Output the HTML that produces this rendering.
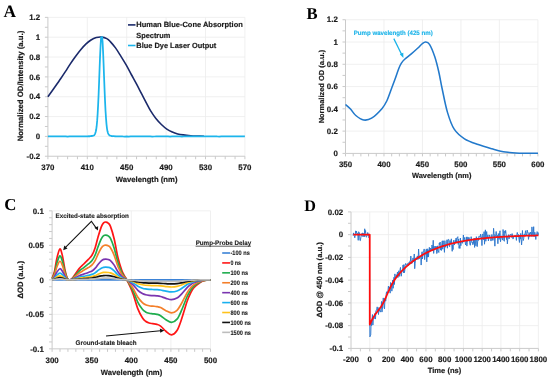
<!DOCTYPE html><html><head><meta charset="utf-8"><style>html,body{margin:0;padding:0;background:#fff;overflow:hidden}svg{display:block;text-rendering:geometricPrecision;filter:blur(0.3px)}</style></head><body>
<svg width="550" height="380" viewBox="0 0 550 380">
<rect width="550" height="380" fill="#fff"/>
<path d="M47.9,17.36 H244.9 M47.9,37.2 H244.9 M47.9,57.04 H244.9 M47.9,76.88 H244.9 M47.9,96.72 H244.9 M47.9,116.56 H244.9 M47.9,136.4 H244.9 M87.3,17.36 V156.24 M126.7,17.36 V156.24 M166.1,17.36 V156.24 M205.5,17.36 V156.24 M244.9,17.36 V156.24" stroke="#ececec" stroke-width="0.8" fill="none"/>
<path d="M47.9,17.36 V156.24 H244.9 M44.9,17.36 H47.9 M44.9,27.28 H47.9 M44.9,37.2 H47.9 M44.9,47.12 H47.9 M44.9,57.04 H47.9 M44.9,66.96 H47.9 M44.9,76.88 H47.9 M44.9,86.8 H47.9 M44.9,96.72 H47.9 M44.9,106.64 H47.9 M44.9,116.56 H47.9 M44.9,126.48 H47.9 M44.9,136.4 H47.9 M44.9,146.32 H47.9 M44.9,156.24 H47.9 M47.9,156.24 V159.24 M57.75,156.24 V159.24 M67.6,156.24 V159.24 M77.45,156.24 V159.24 M87.3,156.24 V159.24 M97.15,156.24 V159.24 M107,156.24 V159.24 M116.85,156.24 V159.24 M126.7,156.24 V159.24 M136.55,156.24 V159.24 M146.4,156.24 V159.24 M156.25,156.24 V159.24 M166.1,156.24 V159.24 M175.95,156.24 V159.24 M185.8,156.24 V159.24 M195.65,156.24 V159.24 M205.5,156.24 V159.24 M215.35,156.24 V159.24 M225.2,156.24 V159.24 M235.05,156.24 V159.24 M244.9,156.24 V159.24" stroke="#cacaca" stroke-width="1" fill="none"/>
<text x="40.2" y="20.11" font-family='"Liberation Sans", sans-serif' font-size="7.9" font-weight="bold" fill="#1a1a1a" text-anchor="end" stroke="#1a1a1a" stroke-width="0.18" >1.2</text>
<text x="40.2" y="39.95" font-family='"Liberation Sans", sans-serif' font-size="7.9" font-weight="bold" fill="#1a1a1a" text-anchor="end" stroke="#1a1a1a" stroke-width="0.18" >1</text>
<text x="40.2" y="59.79" font-family='"Liberation Sans", sans-serif' font-size="7.9" font-weight="bold" fill="#1a1a1a" text-anchor="end" stroke="#1a1a1a" stroke-width="0.18" >0.8</text>
<text x="40.2" y="79.63" font-family='"Liberation Sans", sans-serif' font-size="7.9" font-weight="bold" fill="#1a1a1a" text-anchor="end" stroke="#1a1a1a" stroke-width="0.18" >0.6</text>
<text x="40.2" y="99.47" font-family='"Liberation Sans", sans-serif' font-size="7.9" font-weight="bold" fill="#1a1a1a" text-anchor="end" stroke="#1a1a1a" stroke-width="0.18" >0.4</text>
<text x="40.2" y="119.31" font-family='"Liberation Sans", sans-serif' font-size="7.9" font-weight="bold" fill="#1a1a1a" text-anchor="end" stroke="#1a1a1a" stroke-width="0.18" >0.2</text>
<text x="40.2" y="139.15" font-family='"Liberation Sans", sans-serif' font-size="7.9" font-weight="bold" fill="#1a1a1a" text-anchor="end" stroke="#1a1a1a" stroke-width="0.18" >0</text>
<text x="40.2" y="158.99" font-family='"Liberation Sans", sans-serif' font-size="7.9" font-weight="bold" fill="#1a1a1a" text-anchor="end" stroke="#1a1a1a" stroke-width="0.18" >-0.2</text>
<text x="47.9" y="170.1" font-family='"Liberation Sans", sans-serif' font-size="7.9" font-weight="bold" fill="#1a1a1a" text-anchor="middle" stroke="#1a1a1a" stroke-width="0.18" >370</text>
<text x="87.3" y="170.1" font-family='"Liberation Sans", sans-serif' font-size="7.9" font-weight="bold" fill="#1a1a1a" text-anchor="middle" stroke="#1a1a1a" stroke-width="0.18" >410</text>
<text x="126.7" y="170.1" font-family='"Liberation Sans", sans-serif' font-size="7.9" font-weight="bold" fill="#1a1a1a" text-anchor="middle" stroke="#1a1a1a" stroke-width="0.18" >450</text>
<text x="166.1" y="170.1" font-family='"Liberation Sans", sans-serif' font-size="7.9" font-weight="bold" fill="#1a1a1a" text-anchor="middle" stroke="#1a1a1a" stroke-width="0.18" >490</text>
<text x="205.5" y="170.1" font-family='"Liberation Sans", sans-serif' font-size="7.9" font-weight="bold" fill="#1a1a1a" text-anchor="middle" stroke="#1a1a1a" stroke-width="0.18" >530</text>
<text x="244.9" y="170.1" font-family='"Liberation Sans", sans-serif' font-size="7.9" font-weight="bold" fill="#1a1a1a" text-anchor="middle" stroke="#1a1a1a" stroke-width="0.18" >570</text>
<text x="146.6" y="181.6" font-family='"Liberation Sans", sans-serif' font-size="7.7" font-weight="bold" fill="#1a1a1a" text-anchor="middle" stroke="#1a1a1a" stroke-width="0.18" textLength="61.8" lengthAdjust="spacingAndGlyphs" >Wavelength (nm)</text>
<text transform="translate(22.9,86) rotate(-90)" font-family='"Liberation Sans", sans-serif' font-size="7.75" font-weight="bold" fill="#1a1a1a" text-anchor="middle" stroke="#1a1a1a" stroke-width="0.18" textLength="110.5" lengthAdjust="spacingAndGlyphs" >Normalized OD/Intensity (a.u.)</text>
<text x="3.6" y="16.7" font-family='"Liberation Serif", serif' font-size="17.4" font-weight="bold" fill="#000" text-anchor="start" >A</text>
<path d="M47.9,96.8 C48.92,95.37 51.85,91.25 54,88.2 C56.15,85.15 58.88,81.3 60.8,78.5 C62.72,75.7 63.97,73.75 65.5,71.4 C67.03,69.05 68.37,66.83 70,64.4 C71.63,61.97 73.55,59.2 75.3,56.8 C77.05,54.4 78.75,52.1 80.5,50 C82.25,47.9 84.05,45.87 85.8,44.2 C87.55,42.53 89.25,41.1 91,40 C92.75,38.9 94.53,38.08 96.3,37.6 C98.07,37.12 99.85,36.93 101.6,37.1 C103.35,37.27 105.35,37.85 106.8,38.6 C108.25,39.35 108.85,40.05 110.3,41.6 C111.75,43.15 113.75,45.48 115.5,47.9 C117.25,50.32 119,53.22 120.8,56.1 C122.6,58.98 124.55,62.13 126.3,65.2 C128.05,68.27 129.58,71.33 131.3,74.5 C133.02,77.67 134.85,80.92 136.6,84.2 C138.35,87.48 140.05,90.85 141.8,94.2 C143.55,97.55 145.65,101.57 147.1,104.3 C148.55,107.03 149.03,108.23 150.5,110.6 C151.97,112.97 154.08,116.18 155.9,118.5 C157.72,120.82 159.58,122.73 161.4,124.5 C163.22,126.27 164.98,127.83 166.8,129.1 C168.62,130.37 170.48,131.3 172.3,132.1 C174.12,132.9 175.88,133.43 177.7,133.9 C179.52,134.37 181.02,134.6 183.2,134.9 C185.38,135.2 188.43,135.51 190.8,135.7 C193.17,135.89 195.2,135.95 197.4,136.05 C199.6,136.15 202.9,136.26 204,136.3" stroke="#1b2a6b" stroke-width="1.6" fill="none" stroke-linejoin="round"/>
<path d="M47.9,136.34 L49.87,136.41 L51.84,136.37 L53.81,136.42 L55.78,136.43 L57.75,136.3 L59.72,136.28 L61.69,136.48 L63.66,136.34 L65.63,136.34 L67.6,136.52 L69.57,136.39 L71.54,136.48 L73.51,136.39 L75.48,136.43 L77.45,136.32 L79.42,136.43 L81.39,136.49 L83.36,136.4 L85.33,136.45 L87.3,136.4 L89.27,136.17 L89.76,136.3 L90.25,136.22 L90.75,136.1 L91.24,135.97 L91.73,136.09 L92.22,135.91 L92.72,135.84 L93.21,135.72 L93.7,135.45 L94.19,135.14 L94.69,134.44 L95.18,133.61 L95.67,132.03 L96.16,129.8 L96.66,126.23 L97.15,120.93 L97.64,113.93 L98.13,104.89 L98.63,94.06 L99.12,81.42 L99.61,68.32 L100.1,55.64 L100.6,45.02 L101.09,37.54 L101.58,37.16 L102.07,37.22 L102.57,41.6 L103.06,51.21 L103.55,63.15 L104.04,76.3 L104.54,89.17 L105.03,100.89 L105.52,110.69 L106.02,118.38 L106.51,124.39 L107,128.55 L107.49,131.32 L107.98,133.04 L108.48,134.2 L108.97,134.77 L109.46,135.35 L109.95,135.57 L110.45,135.68 L110.94,135.76 L111.43,136.06 L111.93,136.17 L112.42,136.02 L112.91,136.25 L113.4,136.2 L113.9,136.18 L114.39,136.24 L114.88,136.38 L115.37,136.43 L115.87,136.24 L116.36,136.39 L116.85,136.26 L118.82,136.45 L120.79,136.36 L122.76,136.49 L124.73,136.52 L126.7,136.4 L128.67,136.52 L130.64,136.35 L132.61,136.3 L134.58,136.42 L136.55,136.29 L138.52,136.33 L140.49,136.38 L142.46,136.43 L144.43,136.32 L146.4,136.29 L148.37,136.49 L150.34,136.36 L152.31,136.51 L154.28,136.5 L156.25,136.37 L158.22,136.39 L160.19,136.4 L162.16,136.43 L164.13,136.42 L166.1,136.41 L168.07,136.43 L170.04,136.51 L172.01,136.4 L173.98,136.38 L175.95,136.45 L177.92,136.34 L179.89,136.35 L181.86,136.51 L183.83,136.41 L185.8,136.41 L187.77,136.28 L189.74,136.38 L191.71,136.42 L193.68,136.28 L195.65,136.43 L197.62,136.43 L199.59,136.29 L201.56,136.43 L203.53,136.39 L205.5,136.44 L207.47,136.36 L209.44,136.45 L211.41,136.46 L213.38,136.29 L215.35,136.29 L217.32,136.44 L219.29,136.51 L221.26,136.34 L223.23,136.39 L225.2,136.42 L227.17,136.36 L229.14,136.37 L231.11,136.36 L233.08,136.37 L235.05,136.42 L237.02,136.35 L238.99,136.37 L240.96,136.47 L242.93,136.29 L244.9,136.42" stroke="#1cb5ec" stroke-width="1.75" fill="none" stroke-linejoin="round"/>
<path d="M128,24.9 H135.5" stroke="#1b2a6b" stroke-width="1.6"/>
<path d="M128,45.5 H135.5" stroke="#1cb5ec" stroke-width="1.6"/>
<text x="136.3" y="27.4" font-family='"Liberation Sans", sans-serif' font-size="7.5" font-weight="bold" fill="#1a1a1a" text-anchor="start" stroke="#1a1a1a" stroke-width="0.18" textLength="106.5" lengthAdjust="spacingAndGlyphs" >Human Blue-Cone Absorption</text>
<text x="136.3" y="37.8" font-family='"Liberation Sans", sans-serif' font-size="7.5" font-weight="bold" fill="#1a1a1a" text-anchor="start" stroke="#1a1a1a" stroke-width="0.18" textLength="34" lengthAdjust="spacingAndGlyphs" >Spectrum</text>
<text x="136.3" y="48.2" font-family='"Liberation Sans", sans-serif' font-size="7.5" font-weight="bold" fill="#1a1a1a" text-anchor="start" stroke="#1a1a1a" stroke-width="0.18" textLength="80" lengthAdjust="spacingAndGlyphs" >Blue Dye Laser Output</text>
<path d="M345.5,19.72 H537.9 M345.5,42 H537.9 M345.5,64.28 H537.9 M345.5,86.56 H537.9 M345.5,108.84 H537.9 M345.5,131.12 H537.9 M383.98,19.72 V153.4 M422.46,19.72 V153.4 M460.94,19.72 V153.4 M499.42,19.72 V153.4 M537.9,19.72 V153.4" stroke="#ececec" stroke-width="0.8" fill="none"/>
<path d="M345.5,19.72 V153.4 H537.9 M342.5,19.72 H345.5 M342.5,30.86 H345.5 M342.5,42 H345.5 M342.5,53.14 H345.5 M342.5,64.28 H345.5 M342.5,75.42 H345.5 M342.5,86.56 H345.5 M342.5,97.7 H345.5 M342.5,108.84 H345.5 M342.5,119.98 H345.5 M342.5,131.12 H345.5 M342.5,142.26 H345.5 M342.5,153.4 H345.5 M345.5,153.4 V156.4 M353.2,153.4 V156.4 M360.89,153.4 V156.4 M368.59,153.4 V156.4 M376.28,153.4 V156.4 M383.98,153.4 V156.4 M391.68,153.4 V156.4 M399.37,153.4 V156.4 M407.07,153.4 V156.4 M414.76,153.4 V156.4 M422.46,153.4 V156.4 M430.16,153.4 V156.4 M437.85,153.4 V156.4 M445.55,153.4 V156.4 M453.24,153.4 V156.4 M460.94,153.4 V156.4 M468.64,153.4 V156.4 M476.33,153.4 V156.4 M484.03,153.4 V156.4 M491.72,153.4 V156.4 M499.42,153.4 V156.4 M507.12,153.4 V156.4 M514.81,153.4 V156.4 M522.51,153.4 V156.4 M530.2,153.4 V156.4 M537.9,153.4 V156.4" stroke="#cacaca" stroke-width="1" fill="none"/>
<text x="337.8" y="22.47" font-family='"Liberation Sans", sans-serif' font-size="7.9" font-weight="bold" fill="#1a1a1a" text-anchor="end" stroke="#1a1a1a" stroke-width="0.18" >1.2</text>
<text x="337.8" y="44.75" font-family='"Liberation Sans", sans-serif' font-size="7.9" font-weight="bold" fill="#1a1a1a" text-anchor="end" stroke="#1a1a1a" stroke-width="0.18" >1</text>
<text x="337.8" y="67.03" font-family='"Liberation Sans", sans-serif' font-size="7.9" font-weight="bold" fill="#1a1a1a" text-anchor="end" stroke="#1a1a1a" stroke-width="0.18" >0.8</text>
<text x="337.8" y="89.31" font-family='"Liberation Sans", sans-serif' font-size="7.9" font-weight="bold" fill="#1a1a1a" text-anchor="end" stroke="#1a1a1a" stroke-width="0.18" >0.6</text>
<text x="337.8" y="111.59" font-family='"Liberation Sans", sans-serif' font-size="7.9" font-weight="bold" fill="#1a1a1a" text-anchor="end" stroke="#1a1a1a" stroke-width="0.18" >0.4</text>
<text x="337.8" y="133.87" font-family='"Liberation Sans", sans-serif' font-size="7.9" font-weight="bold" fill="#1a1a1a" text-anchor="end" stroke="#1a1a1a" stroke-width="0.18" >0.2</text>
<text x="337.8" y="156.15" font-family='"Liberation Sans", sans-serif' font-size="7.9" font-weight="bold" fill="#1a1a1a" text-anchor="end" stroke="#1a1a1a" stroke-width="0.18" >0</text>
<text x="345.5" y="167.1" font-family='"Liberation Sans", sans-serif' font-size="7.9" font-weight="bold" fill="#1a1a1a" text-anchor="middle" stroke="#1a1a1a" stroke-width="0.18" >350</text>
<text x="383.98" y="167.1" font-family='"Liberation Sans", sans-serif' font-size="7.9" font-weight="bold" fill="#1a1a1a" text-anchor="middle" stroke="#1a1a1a" stroke-width="0.18" >400</text>
<text x="422.46" y="167.1" font-family='"Liberation Sans", sans-serif' font-size="7.9" font-weight="bold" fill="#1a1a1a" text-anchor="middle" stroke="#1a1a1a" stroke-width="0.18" >450</text>
<text x="460.94" y="167.1" font-family='"Liberation Sans", sans-serif' font-size="7.9" font-weight="bold" fill="#1a1a1a" text-anchor="middle" stroke="#1a1a1a" stroke-width="0.18" >500</text>
<text x="499.42" y="167.1" font-family='"Liberation Sans", sans-serif' font-size="7.9" font-weight="bold" fill="#1a1a1a" text-anchor="middle" stroke="#1a1a1a" stroke-width="0.18" >550</text>
<text x="537.9" y="167.1" font-family='"Liberation Sans", sans-serif' font-size="7.9" font-weight="bold" fill="#1a1a1a" text-anchor="middle" stroke="#1a1a1a" stroke-width="0.18" >600</text>
<text x="441.7" y="178.4" font-family='"Liberation Sans", sans-serif' font-size="7.45" font-weight="bold" fill="#1a1a1a" text-anchor="middle" stroke="#1a1a1a" stroke-width="0.18" textLength="59.5" lengthAdjust="spacingAndGlyphs" >Wavelength (nm)</text>
<text transform="translate(323.9,86.6) rotate(-90)" font-family='"Liberation Sans", sans-serif' font-size="7.3" font-weight="bold" fill="#1a1a1a" text-anchor="middle" stroke="#1a1a1a" stroke-width="0.18" textLength="73.5" lengthAdjust="spacingAndGlyphs" >Normalized OD (a.u.)</text>
<text x="306.6" y="18.9" font-family='"Liberation Serif", serif' font-size="16.6" font-weight="bold" fill="#000" text-anchor="start" >B</text>
<path d="M345.5,104.5 C346.33,105.25 348.78,107.17 350.5,109 C352.22,110.83 353.6,113.67 355.8,115.5 C358,117.33 361.07,119.55 363.7,120 C366.33,120.45 368.53,120.13 371.6,118.2 C374.67,116.27 379.53,111.35 382.1,108.4 C384.67,105.45 385.53,103.53 387,100.5 C388.47,97.47 389.58,93.68 390.9,90.2 C392.22,86.72 393.58,83.22 394.9,79.6 C396.22,75.98 397.72,71.23 398.8,68.5 C399.88,65.77 400.42,64.73 401.4,63.2 C402.38,61.67 403.05,60.85 404.7,59.3 C406.35,57.75 409.1,55.78 411.3,53.9 C413.5,52.02 416.12,49.65 417.9,48 C419.68,46.35 420.73,45 422,44 C423.27,43 424.25,41.95 425.5,42 C426.75,42.05 427.97,41.88 429.5,44.3 C431.03,46.72 433.17,51.97 434.7,56.5 C436.23,61.03 437.45,66.08 438.7,71.5 C439.95,76.92 440.75,82.23 442.2,89 C443.65,95.77 445.4,105.4 447.4,112.1 C449.4,118.8 451.35,124.75 454.2,129.2 C457.05,133.65 460.5,136.23 464.5,138.8 C468.5,141.37 473.65,142.95 478.2,144.6 C482.75,146.25 487.25,147.45 491.8,148.7 C496.35,149.95 500.93,151.35 505.5,152.1 C510.07,152.85 513.78,153 519.2,153.2 C524.62,153.4 534.87,153.28 538,153.3" stroke="#2279cb" stroke-width="1.55" fill="none" stroke-linejoin="round"/>
<text x="393.2" y="35.3" font-family='"Liberation Sans", sans-serif' font-size="6.35" font-weight="bold" fill="#17b2e8" text-anchor="middle" stroke="#17b2e8" stroke-width="0.1" textLength="79" lengthAdjust="spacingAndGlyphs" >Pump wavelength (425 nm)</text>
<path d="M393.8,38.6 L401.9,55" stroke="#17b2e8" stroke-width="1.25"/>
<path d="M403.4,58 L399.8,54.2 L403.3,52.8 Z" fill="#17b2e8"/>
<path d="M52.1,210.85 H210.5 M52.1,245.35 H210.5 M52.1,279.85 H210.5 M52.1,314.35 H210.5 M91.7,210.85 V348.85 M131.3,210.85 V348.85 M170.9,210.85 V348.85 M210.5,210.85 V348.85" stroke="#ececec" stroke-width="0.8" fill="none"/>
<path d="M52.1,210.85 V348.85 H210.5 M49.1,210.85 H52.1 M49.1,217.75 H52.1 M49.1,224.65 H52.1 M49.1,231.55 H52.1 M49.1,238.45 H52.1 M49.1,245.35 H52.1 M49.1,252.25 H52.1 M49.1,259.15 H52.1 M49.1,266.05 H52.1 M49.1,272.95 H52.1 M49.1,279.85 H52.1 M49.1,286.75 H52.1 M49.1,293.65 H52.1 M49.1,300.55 H52.1 M49.1,307.45 H52.1 M49.1,314.35 H52.1 M49.1,321.25 H52.1 M49.1,328.15 H52.1 M49.1,335.05 H52.1 M49.1,341.95 H52.1 M49.1,348.85 H52.1 M52.1,348.85 V351.85 M60.02,348.85 V351.85 M67.94,348.85 V351.85 M75.86,348.85 V351.85 M83.78,348.85 V351.85 M91.7,348.85 V351.85 M99.62,348.85 V351.85 M107.54,348.85 V351.85 M115.46,348.85 V351.85 M123.38,348.85 V351.85 M131.3,348.85 V351.85 M139.22,348.85 V351.85 M147.14,348.85 V351.85 M155.06,348.85 V351.85 M162.98,348.85 V351.85 M170.9,348.85 V351.85 M178.82,348.85 V351.85 M186.74,348.85 V351.85 M194.66,348.85 V351.85 M202.58,348.85 V351.85 M210.5,348.85 V351.85" stroke="#cacaca" stroke-width="1" fill="none"/>
<text x="43.8" y="213.6" font-family='"Liberation Sans", sans-serif' font-size="7.9" font-weight="bold" fill="#1a1a1a" text-anchor="end" stroke="#1a1a1a" stroke-width="0.18" >0.1</text>
<text x="43.8" y="248.1" font-family='"Liberation Sans", sans-serif' font-size="7.9" font-weight="bold" fill="#1a1a1a" text-anchor="end" stroke="#1a1a1a" stroke-width="0.18" >0.05</text>
<text x="43.8" y="282.6" font-family='"Liberation Sans", sans-serif' font-size="7.9" font-weight="bold" fill="#1a1a1a" text-anchor="end" stroke="#1a1a1a" stroke-width="0.18" >0</text>
<text x="43.8" y="317.1" font-family='"Liberation Sans", sans-serif' font-size="7.9" font-weight="bold" fill="#1a1a1a" text-anchor="end" stroke="#1a1a1a" stroke-width="0.18" >-0.05</text>
<text x="43.8" y="351.6" font-family='"Liberation Sans", sans-serif' font-size="7.9" font-weight="bold" fill="#1a1a1a" text-anchor="end" stroke="#1a1a1a" stroke-width="0.18" >-0.1</text>
<text x="52.1" y="362.8" font-family='"Liberation Sans", sans-serif' font-size="7.9" font-weight="bold" fill="#1a1a1a" text-anchor="middle" stroke="#1a1a1a" stroke-width="0.18" >300</text>
<text x="91.7" y="362.8" font-family='"Liberation Sans", sans-serif' font-size="7.9" font-weight="bold" fill="#1a1a1a" text-anchor="middle" stroke="#1a1a1a" stroke-width="0.18" >350</text>
<text x="131.3" y="362.8" font-family='"Liberation Sans", sans-serif' font-size="7.9" font-weight="bold" fill="#1a1a1a" text-anchor="middle" stroke="#1a1a1a" stroke-width="0.18" >400</text>
<text x="170.9" y="362.8" font-family='"Liberation Sans", sans-serif' font-size="7.9" font-weight="bold" fill="#1a1a1a" text-anchor="middle" stroke="#1a1a1a" stroke-width="0.18" >450</text>
<text x="210.5" y="362.8" font-family='"Liberation Sans", sans-serif' font-size="7.9" font-weight="bold" fill="#1a1a1a" text-anchor="middle" stroke="#1a1a1a" stroke-width="0.18" >500</text>
<text x="131.5" y="374.6" font-family='"Liberation Sans", sans-serif' font-size="7.7" font-weight="bold" fill="#1a1a1a" text-anchor="middle" stroke="#1a1a1a" stroke-width="0.18" textLength="61.5" lengthAdjust="spacingAndGlyphs" >Wavelength (nm)</text>
<text transform="translate(23.4,279.8) rotate(-90)" font-family='"Liberation Sans", sans-serif' font-size="7.8" font-weight="bold" fill="#1a1a1a" text-anchor="middle" stroke="#1a1a1a" stroke-width="0.18" textLength="37.5" lengthAdjust="spacingAndGlyphs" >&#916;OD (a.u.)</text>
<text x="4.3" y="210.2" font-family='"Liberation Serif", serif' font-size="16.8" font-weight="bold" fill="#000" text-anchor="start" >C</text>
<path d="M52.1,279.85 C52.5,279.85 53.68,279.85 54.48,279.85 C55.27,279.85 55.95,279.85 56.85,279.85 C57.75,279.85 58.94,279.85 59.86,279.85 C60.79,279.85 61.58,279.85 62.4,279.85 C63.21,279.85 63.98,279.85 64.77,279.85 C65.56,279.85 66.36,279.85 67.15,279.85 C67.94,279.85 68.6,279.85 69.52,279.85 C70.45,279.85 71.08,279.85 72.69,279.85 C74.3,279.85 77.34,279.85 79.19,279.85 C81.03,279.85 82.25,279.85 83.78,279.85 C85.31,279.85 86.99,279.85 88.37,279.85 C89.76,279.85 90.95,279.85 92.1,279.85 C93.24,279.85 94.27,279.85 95.26,279.85 C96.25,279.85 97.03,279.85 98.04,279.85 C99.04,279.85 100.36,279.85 101.28,279.85 C102.21,279.85 102.81,279.85 103.58,279.85 C104.35,279.85 105.11,279.85 105.88,279.85 C106.64,279.85 107.41,279.85 108.17,279.85 C108.94,279.85 109.47,279.85 110.47,279.85 C111.47,279.85 112.95,279.85 114.19,279.85 C115.43,279.85 116.67,279.85 117.92,279.85 C119.16,279.85 120.59,279.85 121.64,279.85 C122.68,279.85 123.31,279.85 124.17,279.85 C125.03,279.85 125.84,279.85 126.79,279.85 C127.74,279.85 128.78,279.85 129.87,279.85 C130.97,279.85 132.03,279.85 133.36,279.85 C134.69,279.85 136.37,279.85 137.87,279.85 C139.38,279.85 141.11,279.85 142.39,279.85 C143.67,279.85 144.43,279.85 145.56,279.85 C146.68,279.85 147.93,279.85 149.12,279.85 C150.31,279.85 151.39,279.85 152.68,279.85 C153.98,279.85 155.56,279.85 156.88,279.85 C158.2,279.85 159.1,279.85 160.6,279.85 C162.11,279.85 164.09,279.85 165.91,279.85 C167.73,279.85 169.69,279.85 171.53,279.85 C173.38,279.85 175.34,279.85 177,279.85 C178.66,279.85 179.82,279.85 181.51,279.85 C183.2,279.85 185.6,279.85 187.14,279.85 C188.67,279.85 189.58,279.85 190.7,279.85 C191.82,279.85 192.23,279.85 193.87,279.85 C195.5,279.85 198.67,279.85 200.52,279.85 C202.37,279.85 203.29,279.85 204.96,279.85 C206.62,279.85 209.58,279.85 210.5,279.85" stroke="#3b82d6" stroke-width="1.7" fill="none" stroke-linejoin="round"/>
<path d="M52.1,278.12 C52.5,277.03 53.68,274.85 54.48,271.57 C55.27,268.29 55.95,262.23 56.85,258.46 C57.75,254.69 58.94,249.4 59.86,248.94 C60.79,248.48 61.58,252.39 62.4,255.7 C63.21,259.01 63.98,265.13 64.77,268.81 C65.56,272.49 66.36,275.88 67.15,277.78 C67.94,279.68 68.6,280.2 69.52,280.2 C70.45,280.2 71.08,279.71 72.69,277.78 C74.3,275.85 77.34,270.9 79.19,268.6 C81.03,266.3 82.25,265.52 83.78,263.98 C85.31,262.44 86.99,260.85 88.37,259.36 C89.76,257.86 90.95,257 92.1,255.01 C93.24,253.02 94.27,250.41 95.26,247.42 C96.25,244.43 97.03,240.5 98.04,237.07 C99.04,233.64 100.36,229.23 101.28,226.86 C102.21,224.49 102.81,223.66 103.58,222.86 C104.35,222.05 105.11,221.98 105.88,222.03 C106.64,222.07 107.41,222.41 108.17,223.13 C108.94,223.86 109.47,223.73 110.47,226.38 C111.47,229.02 112.95,233.8 114.19,239 C115.43,244.2 116.67,252.39 117.92,257.56 C119.16,262.74 120.59,267.09 121.64,270.05 C122.68,273.02 123.31,273.73 124.17,275.37 C125.03,277 125.84,278.07 126.79,279.85 C127.74,281.63 128.78,283.59 129.87,286.06 C130.97,288.53 132.03,290.89 133.36,294.69 C134.69,298.48 136.37,304.98 137.87,308.83 C139.38,312.68 141.11,315.73 142.39,317.8 C143.67,319.87 144.43,320.39 145.56,321.25 C146.68,322.11 147.93,322.57 149.12,322.98 C150.31,323.38 151.39,323.44 152.68,323.67 C153.98,323.9 155.56,323.95 156.88,324.36 C158.2,324.76 159.1,324.93 160.6,326.08 C162.11,327.23 164.09,329.79 165.91,331.25 C167.73,332.72 169.69,334.96 171.53,334.84 C173.38,334.73 175.34,333.15 177,330.56 C178.66,327.98 179.82,324.19 181.51,319.32 C183.2,314.44 185.6,305.7 187.14,301.31 C188.67,296.92 189.58,295.21 190.7,292.96 C191.82,290.71 192.23,289.57 193.87,287.79 C195.5,286 198.67,283.47 200.52,282.27 C202.37,281.06 203.29,280.94 204.96,280.54 C206.62,280.14 209.58,279.97 210.5,279.85" stroke="#ff1515" stroke-width="1.7" fill="none" stroke-linejoin="round"/>
<path d="M52.1,278.51 C52.5,277.67 53.68,275.97 54.48,273.43 C55.27,270.89 55.95,266.2 56.85,263.27 C57.75,260.35 58.94,256.25 59.86,255.89 C60.79,255.54 61.58,258.57 62.4,261.13 C63.21,263.7 63.98,268.44 64.77,271.29 C65.56,274.15 66.36,276.78 67.15,278.25 C67.94,279.72 68.6,280.12 69.52,280.12 C70.45,280.12 71.08,279.74 72.69,278.25 C74.3,276.75 77.34,272.92 79.19,271.13 C81.03,269.35 82.25,268.75 83.78,267.55 C85.31,266.36 86.99,265.13 88.37,263.97 C89.76,262.81 90.95,262.14 92.1,260.6 C93.24,259.06 94.27,257.03 95.26,254.72 C96.25,252.4 97.03,249.35 98.04,246.7 C99.04,244.04 100.36,240.62 101.28,238.78 C102.21,236.95 102.81,236.3 103.58,235.68 C104.35,235.06 105.11,235 105.88,235.04 C106.64,235.07 107.41,235.33 108.17,235.89 C108.94,236.46 109.47,236.36 110.47,238.41 C111.47,240.46 112.95,244.16 114.19,248.19 C115.43,252.22 116.67,258.57 117.92,262.58 C119.16,266.59 120.59,269.96 121.64,272.26 C122.68,274.56 123.31,275.11 124.17,276.37 C125.03,277.64 125.84,278.47 126.79,279.85 C127.74,281.23 128.78,282.75 129.87,284.66 C130.97,286.58 132.03,288.41 133.36,291.35 C134.69,294.29 136.37,299.32 137.87,302.31 C139.38,305.3 141.11,307.66 142.39,309.26 C143.67,310.87 144.43,311.27 145.56,311.94 C146.68,312.6 147.93,312.96 149.12,313.27 C150.31,313.58 151.39,313.63 152.68,313.81 C153.98,313.98 155.56,314.03 156.88,314.34 C158.2,314.65 159.1,314.79 160.6,315.68 C162.11,316.57 164.09,318.56 165.91,319.69 C167.73,320.82 169.69,322.56 171.53,322.47 C173.38,322.38 175.34,321.16 177,319.15 C178.66,317.15 179.82,314.22 181.51,310.44 C183.2,306.66 185.6,299.89 187.14,296.48 C188.67,293.08 189.58,291.76 190.7,290.01 C191.82,288.26 192.23,287.38 193.87,286 C195.5,284.62 198.67,282.66 200.52,281.72 C202.37,280.79 203.29,280.7 204.96,280.38 C206.62,280.07 209.58,279.94 210.5,279.85" stroke="#1fad4e" stroke-width="1.7" fill="none" stroke-linejoin="round"/>
<path d="M52.1,278.81 C52.5,278.16 53.68,276.85 54.48,274.88 C55.27,272.92 55.95,269.28 56.85,267.02 C57.75,264.75 58.94,261.58 59.86,261.3 C60.79,261.03 61.58,263.37 62.4,265.36 C63.21,267.35 63.98,271.02 64.77,273.23 C65.56,275.43 66.36,277.47 67.15,278.61 C67.94,279.75 68.6,280.06 69.52,280.06 C70.45,280.06 71.08,279.77 72.69,278.61 C74.3,277.45 77.34,274.48 79.19,273.1 C81.03,271.72 82.25,271.25 83.78,270.33 C85.31,269.4 86.99,268.45 88.37,267.55 C89.76,266.66 90.95,266.14 92.1,264.95 C93.24,263.75 94.27,262.19 95.26,260.39 C96.25,258.6 97.03,256.24 98.04,254.18 C99.04,252.13 100.36,249.48 101.28,248.05 C102.21,246.63 102.81,246.14 103.58,245.65 C104.35,245.17 105.11,245.13 105.88,245.16 C106.64,245.18 107.41,245.38 108.17,245.82 C108.94,246.25 109.47,246.18 110.47,247.77 C111.47,249.35 112.95,252.22 114.19,255.34 C115.43,258.46 116.67,263.37 117.92,266.48 C119.16,269.58 120.59,272.19 121.64,273.97 C122.68,275.75 123.31,276.18 124.17,277.16 C125.03,278.14 125.84,278.78 126.79,279.85 C127.74,280.92 128.78,282.09 129.87,283.58 C130.97,285.06 132.03,286.47 133.36,288.75 C134.69,291.03 136.37,294.93 137.87,297.24 C139.38,299.55 141.11,301.38 142.39,302.62 C143.67,303.86 144.43,304.17 145.56,304.69 C146.68,305.21 147.93,305.48 149.12,305.73 C150.31,305.97 151.39,306 152.68,306.14 C153.98,306.28 155.56,306.31 156.88,306.55 C158.2,306.79 159.1,306.9 160.6,307.59 C162.11,308.28 164.09,309.82 165.91,310.69 C167.73,311.57 169.69,312.91 171.53,312.85 C173.38,312.78 175.34,311.83 177,310.28 C178.66,308.73 179.82,306.46 181.51,303.53 C183.2,300.61 185.6,295.36 187.14,292.73 C188.67,290.09 189.58,289.07 190.7,287.72 C191.82,286.36 192.23,285.68 193.87,284.61 C195.5,283.54 198.67,282.02 200.52,281.3 C202.37,280.57 203.29,280.51 204.96,280.26 C206.62,280.02 209.58,279.92 210.5,279.85" stroke="#f47f2a" stroke-width="1.7" fill="none" stroke-linejoin="round"/>
<path d="M52.1,279.23 C52.5,278.84 53.68,278.05 54.48,276.87 C55.27,275.69 55.95,273.51 56.85,272.15 C57.75,270.79 58.94,268.89 59.86,268.72 C60.79,268.56 61.58,269.96 62.4,271.16 C63.21,272.35 63.98,274.55 64.77,275.88 C65.56,277.2 66.36,278.42 67.15,279.1 C67.94,279.79 68.6,279.97 69.52,279.97 C70.45,279.97 71.08,279.8 72.69,279.1 C74.3,278.41 77.34,276.63 79.19,275.8 C81.03,274.97 82.25,274.69 83.78,274.14 C85.31,273.58 86.99,273.01 88.37,272.47 C89.76,271.93 90.95,271.62 92.1,270.91 C93.24,270.19 94.27,269.25 95.26,268.18 C96.25,267.1 97.03,265.68 98.04,264.45 C99.04,263.22 100.36,261.63 101.28,260.77 C102.21,259.92 102.81,259.62 103.58,259.33 C104.35,259.04 105.11,259.02 105.88,259.03 C106.64,259.05 107.41,259.17 108.17,259.43 C108.94,259.69 109.47,259.65 110.47,260.6 C111.47,261.55 112.95,263.27 114.19,265.14 C115.43,267.02 116.67,269.96 117.92,271.83 C119.16,273.69 120.59,275.25 121.64,276.32 C122.68,277.39 123.31,277.65 124.17,278.24 C125.03,278.82 125.84,279.21 126.79,279.85 C127.74,280.49 128.78,281.2 129.87,282.09 C130.97,282.98 132.03,283.82 133.36,285.19 C134.69,286.56 136.37,288.9 137.87,290.28 C139.38,291.67 141.11,292.77 142.39,293.51 C143.67,294.26 144.43,294.44 145.56,294.75 C146.68,295.06 147.93,295.23 149.12,295.38 C150.31,295.52 151.39,295.54 152.68,295.62 C153.98,295.71 155.56,295.73 156.88,295.87 C158.2,296.02 159.1,296.08 160.6,296.49 C162.11,296.91 164.09,297.83 165.91,298.36 C167.73,298.88 169.69,299.69 171.53,299.65 C173.38,299.61 175.34,299.04 177,298.11 C178.66,297.18 179.82,295.81 181.51,294.06 C183.2,292.3 185.6,289.16 187.14,287.58 C188.67,285.99 189.58,285.38 190.7,284.57 C191.82,283.76 192.23,283.35 193.87,282.71 C195.5,282.06 198.67,281.15 200.52,280.72 C202.37,280.28 203.29,280.24 204.96,280.1 C206.62,279.95 209.58,279.89 210.5,279.85" stroke="#7a35b0" stroke-width="1.7" fill="none" stroke-linejoin="round"/>
<path d="M52.1,279.47 C52.5,279.23 53.68,278.75 54.48,278.03 C55.27,277.31 55.95,275.97 56.85,275.14 C57.75,274.31 58.94,273.15 59.86,273.05 C60.79,272.95 61.58,273.81 62.4,274.54 C63.21,275.27 63.98,276.61 64.77,277.42 C65.56,278.23 66.36,278.98 67.15,279.39 C67.94,279.81 68.6,279.93 69.52,279.93 C70.45,279.93 71.08,279.82 72.69,279.39 C74.3,278.97 77.34,277.88 79.19,277.38 C81.03,276.87 82.25,276.7 83.78,276.36 C85.31,276.02 86.99,275.67 88.37,275.34 C89.76,275.01 90.95,274.82 92.1,274.39 C93.24,273.95 94.27,273.37 95.26,272.72 C96.25,272.06 97.03,271.19 98.04,270.44 C99.04,269.68 100.36,268.71 101.28,268.19 C102.21,267.67 102.81,267.49 103.58,267.31 C104.35,267.13 105.11,267.12 105.88,267.13 C106.64,267.14 107.41,267.21 108.17,267.37 C108.94,267.53 109.47,267.5 110.47,268.09 C111.47,268.67 112.95,269.72 114.19,270.86 C115.43,272.01 116.67,273.81 117.92,274.95 C119.16,276.09 120.59,277.04 121.64,277.69 C122.68,278.35 123.31,278.5 124.17,278.86 C125.03,279.22 125.84,279.46 126.79,279.85 C127.74,280.24 128.78,280.67 129.87,281.22 C130.97,281.76 132.03,282.28 133.36,283.11 C134.69,283.95 136.37,285.38 137.87,286.23 C139.38,287.07 141.11,287.74 142.39,288.2 C143.67,288.65 144.43,288.77 145.56,288.96 C146.68,289.15 147.93,289.25 149.12,289.34 C150.31,289.43 151.39,289.44 152.68,289.49 C153.98,289.54 155.56,289.55 156.88,289.64 C158.2,289.73 159.1,289.77 160.6,290.02 C162.11,290.27 164.09,290.84 165.91,291.16 C167.73,291.48 169.69,291.97 171.53,291.95 C173.38,291.92 175.34,291.58 177,291.01 C178.66,290.44 179.82,289.61 181.51,288.53 C183.2,287.46 185.6,285.54 187.14,284.57 C188.67,283.6 189.58,283.23 190.7,282.73 C191.82,282.24 192.23,281.99 193.87,281.6 C195.5,281.2 198.67,280.65 200.52,280.38 C202.37,280.12 203.29,280.09 204.96,280 C206.62,279.91 209.58,279.88 210.5,279.85" stroke="#19b0ef" stroke-width="1.7" fill="none" stroke-linejoin="round"/>
<path d="M52.1,279.63 C52.5,279.48 53.68,279.2 54.48,278.77 C55.27,278.35 55.95,277.56 56.85,277.07 C57.75,276.58 58.94,275.89 59.86,275.83 C60.79,275.77 61.58,276.28 62.4,276.71 C63.21,277.14 63.98,277.94 64.77,278.41 C65.56,278.89 66.36,279.33 67.15,279.58 C67.94,279.83 68.6,279.89 69.52,279.89 C70.45,279.89 71.08,279.83 72.69,279.58 C74.3,279.33 77.34,278.69 79.19,278.39 C81.03,278.09 82.25,277.99 83.78,277.79 C85.31,277.59 86.99,277.38 88.37,277.19 C89.76,276.99 90.95,276.88 92.1,276.62 C93.24,276.36 94.27,276.02 95.26,275.63 C96.25,275.25 97.03,274.73 98.04,274.29 C99.04,273.84 100.36,273.27 101.28,272.96 C102.21,272.65 102.81,272.55 103.58,272.44 C104.35,272.34 105.11,272.33 105.88,272.33 C106.64,272.34 107.41,272.38 108.17,272.48 C108.94,272.57 109.47,272.55 110.47,272.9 C111.47,273.24 112.95,273.86 114.19,274.54 C115.43,275.22 116.67,276.28 117.92,276.95 C119.16,277.63 120.59,278.19 121.64,278.58 C122.68,278.96 123.31,279.05 124.17,279.27 C125.03,279.48 125.84,279.62 126.79,279.85 C127.74,280.08 128.78,280.34 129.87,280.66 C130.97,280.98 132.03,281.29 133.36,281.78 C134.69,282.27 136.37,283.12 137.87,283.62 C139.38,284.12 141.11,284.51 142.39,284.78 C143.67,285.05 144.43,285.12 145.56,285.23 C146.68,285.34 147.93,285.4 149.12,285.46 C150.31,285.51 151.39,285.52 152.68,285.55 C153.98,285.58 155.56,285.58 156.88,285.64 C158.2,285.69 159.1,285.71 160.6,285.86 C162.11,286.01 164.09,286.34 165.91,286.53 C167.73,286.72 169.69,287.01 171.53,287 C173.38,286.98 175.34,286.78 177,286.44 C178.66,286.11 179.82,285.61 181.51,284.98 C183.2,284.35 185.6,283.21 187.14,282.64 C188.67,282.07 189.58,281.85 190.7,281.55 C191.82,281.26 192.23,281.11 193.87,280.88 C195.5,280.65 198.67,280.32 200.52,280.16 C202.37,280.01 203.29,279.99 204.96,279.94 C206.62,279.89 209.58,279.86 210.5,279.85" stroke="#ffc21a" stroke-width="1.7" fill="none" stroke-linejoin="round"/>
<path d="M52.1,279.72 C52.5,279.64 53.68,279.47 54.48,279.23 C55.27,278.98 55.95,278.53 56.85,278.25 C57.75,277.96 58.94,277.57 59.86,277.53 C60.79,277.5 61.58,277.79 62.4,278.04 C63.21,278.29 63.98,278.75 64.77,279.02 C65.56,279.3 66.36,279.55 67.15,279.69 C67.94,279.84 68.6,279.88 69.52,279.88 C70.45,279.88 71.08,279.84 72.69,279.69 C74.3,279.55 77.34,279.18 79.19,279.01 C81.03,278.83 82.25,278.78 83.78,278.66 C85.31,278.54 86.99,278.43 88.37,278.31 C89.76,278.2 90.95,278.14 92.1,277.99 C93.24,277.84 94.27,277.64 95.26,277.42 C96.25,277.19 97.03,276.9 98.04,276.64 C99.04,276.38 100.36,276.05 101.28,275.88 C102.21,275.7 102.81,275.64 103.58,275.58 C104.35,275.52 105.11,275.51 105.88,275.51 C106.64,275.52 107.41,275.54 108.17,275.6 C108.94,275.65 109.47,275.64 110.47,275.84 C111.47,276.04 112.95,276.4 114.19,276.79 C115.43,277.18 116.67,277.79 117.92,278.18 C119.16,278.57 120.59,278.89 121.64,279.12 C122.68,279.34 123.31,279.39 124.17,279.51 C125.03,279.64 125.84,279.72 126.79,279.85 C127.74,279.98 128.78,280.13 129.87,280.32 C130.97,280.5 132.03,280.68 133.36,280.96 C134.69,281.25 136.37,281.73 137.87,282.02 C139.38,282.31 141.11,282.54 142.39,282.7 C143.67,282.85 144.43,282.89 145.56,282.96 C146.68,283.02 147.93,283.05 149.12,283.08 C150.31,283.11 151.39,283.12 152.68,283.14 C153.98,283.15 155.56,283.16 156.88,283.19 C158.2,283.22 159.1,283.23 160.6,283.32 C162.11,283.4 164.09,283.6 165.91,283.71 C167.73,283.81 169.69,283.98 171.53,283.97 C173.38,283.97 175.34,283.85 177,283.65 C178.66,283.46 179.82,283.18 181.51,282.81 C183.2,282.44 185.6,281.79 187.14,281.46 C188.67,281.13 189.58,281 190.7,280.83 C191.82,280.66 192.23,280.58 193.87,280.45 C195.5,280.31 198.67,280.12 200.52,280.03 C202.37,279.94 203.29,279.93 204.96,279.9 C206.62,279.87 209.58,279.86 210.5,279.85" stroke="#111111" stroke-width="1.7" fill="none" stroke-linejoin="round"/>
<path d="M52.1,279.8 C52.5,279.77 53.68,279.7 54.48,279.6 C55.27,279.5 55.95,279.32 56.85,279.21 C57.75,279.1 58.94,278.94 59.86,278.92 C60.79,278.91 61.58,279.03 62.4,279.13 C63.21,279.22 63.98,279.41 64.77,279.52 C65.56,279.63 66.36,279.73 67.15,279.79 C67.94,279.84 68.6,279.86 69.52,279.86 C70.45,279.86 71.08,279.85 72.69,279.79 C74.3,279.73 77.34,279.58 79.19,279.51 C81.03,279.44 82.25,279.42 83.78,279.37 C85.31,279.33 86.99,279.28 88.37,279.24 C89.76,279.19 90.95,279.16 92.1,279.1 C93.24,279.05 94.27,278.97 95.26,278.88 C96.25,278.79 97.03,278.67 98.04,278.57 C99.04,278.46 100.36,278.33 101.28,278.26 C102.21,278.19 102.81,278.16 103.58,278.14 C104.35,278.12 105.11,278.11 105.88,278.12 C106.64,278.12 107.41,278.13 108.17,278.15 C108.94,278.17 109.47,278.17 110.47,278.25 C111.47,278.33 112.95,278.47 114.19,278.62 C115.43,278.78 116.67,279.03 117.92,279.18 C119.16,279.34 120.59,279.47 121.64,279.56 C122.68,279.65 123.31,279.67 124.17,279.72 C125.03,279.76 125.84,279.8 126.79,279.85 C127.74,279.9 128.78,279.96 129.87,280.04 C130.97,280.11 132.03,280.18 133.36,280.3 C134.69,280.41 136.37,280.6 137.87,280.72 C139.38,280.83 141.11,280.93 142.39,280.99 C143.67,281.05 144.43,281.07 145.56,281.09 C146.68,281.12 147.93,281.13 149.12,281.14 C150.31,281.16 151.39,281.16 152.68,281.16 C153.98,281.17 155.56,281.17 156.88,281.19 C158.2,281.2 159.1,281.2 160.6,281.24 C162.11,281.27 164.09,281.35 165.91,281.39 C167.73,281.44 169.69,281.5 171.53,281.5 C173.38,281.5 175.34,281.45 177,281.37 C178.66,281.29 179.82,281.18 181.51,281.03 C183.2,280.89 185.6,280.63 187.14,280.49 C188.67,280.36 189.58,280.31 190.7,280.24 C191.82,280.18 192.23,280.14 193.87,280.09 C195.5,280.03 198.67,279.96 200.52,279.92 C202.37,279.89 203.29,279.88 204.96,279.87 C206.62,279.86 209.58,279.85 210.5,279.85" stroke="#bdbdbd" stroke-width="1.7" fill="none" stroke-linejoin="round"/>
<text x="223.4" y="244.9" font-family='"Liberation Sans", sans-serif' font-size="6.6" font-weight="bold" fill="#1a1a1a" text-anchor="middle" stroke="#1a1a1a" stroke-width="0.1" textLength="55.5" lengthAdjust="spacingAndGlyphs" >Pump-Probe Delay</text>
<path d="M195.6,246.2 H251" stroke="#1a1a1a" stroke-width="0.7"/>
<path d="M222.2,253 H230" stroke="#3b82d6" stroke-width="1.6"/>
<text x="230.4" y="255.35" font-family='"Liberation Sans", sans-serif' font-size="6.5" font-weight="bold" fill="#1a1a1a" text-anchor="start" stroke="#1a1a1a" stroke-width="0.1" textLength="19.4" lengthAdjust="spacingAndGlyphs" >-100 ns</text>
<path d="M222.2,262.92 H230" stroke="#ff1515" stroke-width="1.6"/>
<text x="230.4" y="265.27" font-family='"Liberation Sans", sans-serif' font-size="6.5" font-weight="bold" fill="#1a1a1a" text-anchor="start" stroke="#1a1a1a" stroke-width="0.1" textLength="10.7" lengthAdjust="spacingAndGlyphs" >0 ns</text>
<path d="M222.2,272.84 H230" stroke="#1fad4e" stroke-width="1.6"/>
<text x="230.4" y="275.19" font-family='"Liberation Sans", sans-serif' font-size="6.5" font-weight="bold" fill="#1a1a1a" text-anchor="start" stroke="#1a1a1a" stroke-width="0.1" textLength="17.7" lengthAdjust="spacingAndGlyphs" >100 ns</text>
<path d="M222.2,282.76 H230" stroke="#f47f2a" stroke-width="1.6"/>
<text x="230.4" y="285.11" font-family='"Liberation Sans", sans-serif' font-size="6.5" font-weight="bold" fill="#1a1a1a" text-anchor="start" stroke="#1a1a1a" stroke-width="0.1" textLength="17.7" lengthAdjust="spacingAndGlyphs" >200 ns</text>
<path d="M222.2,292.68 H230" stroke="#7a35b0" stroke-width="1.6"/>
<text x="230.4" y="295.03" font-family='"Liberation Sans", sans-serif' font-size="6.5" font-weight="bold" fill="#1a1a1a" text-anchor="start" stroke="#1a1a1a" stroke-width="0.1" textLength="17.6" lengthAdjust="spacingAndGlyphs" >400 ns</text>
<path d="M222.2,302.6 H230" stroke="#19b0ef" stroke-width="1.6"/>
<text x="230.4" y="304.95" font-family='"Liberation Sans", sans-serif' font-size="6.5" font-weight="bold" fill="#1a1a1a" text-anchor="start" stroke="#1a1a1a" stroke-width="0.1" textLength="17.6" lengthAdjust="spacingAndGlyphs" >600 ns</text>
<path d="M222.2,312.52 H230" stroke="#ffc21a" stroke-width="1.6"/>
<text x="230.4" y="314.87" font-family='"Liberation Sans", sans-serif' font-size="6.5" font-weight="bold" fill="#1a1a1a" text-anchor="start" stroke="#1a1a1a" stroke-width="0.1" textLength="17.6" lengthAdjust="spacingAndGlyphs" >800 ns</text>
<path d="M222.2,322.44 H230" stroke="#111111" stroke-width="1.6"/>
<text x="230.4" y="324.79" font-family='"Liberation Sans", sans-serif' font-size="6.5" font-weight="bold" fill="#1a1a1a" text-anchor="start" stroke="#1a1a1a" stroke-width="0.1" textLength="20.6" lengthAdjust="spacingAndGlyphs" >1000 ns</text>
<path d="M222.2,332.36 H230" stroke="#bdbdbd" stroke-width="1.6"/>
<text x="230.4" y="334.71" font-family='"Liberation Sans", sans-serif' font-size="6.5" font-weight="bold" fill="#1a1a1a" text-anchor="start" stroke="#1a1a1a" stroke-width="0.1" textLength="20.6" lengthAdjust="spacingAndGlyphs" >1500 ns</text>
<text x="55.6" y="217.8" font-family='"Liberation Sans", sans-serif' font-size="6.5" font-weight="bold" fill="#1a1a1a" text-anchor="start" stroke="#1a1a1a" stroke-width="0.1" textLength="73.3" lengthAdjust="spacingAndGlyphs" >Excited-state absorption</text>
<text x="75.6" y="344.8" font-family='"Liberation Sans", sans-serif' font-size="6.7" font-weight="bold" fill="#1a1a1a" text-anchor="start" stroke="#1a1a1a" stroke-width="0.1" textLength="61" lengthAdjust="spacingAndGlyphs" >Ground-state bleach</text>
<path d="M65,247.8 L91.4,221.3 L96.6,228.6" stroke="#111" stroke-width="1.1" fill="none"/>
<path d="M63.2,250.3 L64.3,245.5 L67.5,248.6 Z" fill="#111"/>
<path d="M97.9,230.6 L94.4,227.8 L98.2,226.2 Z" fill="#111"/>
<path d="M106,336 L160.5,330.8" stroke="#111" stroke-width="1.1" fill="none"/>
<path d="M164.3,330.4 L159.8,328.6 L160.3,332.8 Z" fill="#111"/>
<path d="M351,211.9 H538.4 M351,234.65 H538.4 M351,257.4 H538.4 M351,280.15 H538.4 M351,302.9 H538.4 M351,325.65 H538.4 M369.74,211.9 V348.4 M388.48,211.9 V348.4 M407.22,211.9 V348.4 M425.96,211.9 V348.4 M444.7,211.9 V348.4 M463.44,211.9 V348.4 M482.18,211.9 V348.4 M500.92,211.9 V348.4 M519.66,211.9 V348.4 M538.4,211.9 V348.4" stroke="#ececec" stroke-width="0.8" fill="none"/>
<path d="M351,211.9 V348.4 H538.4 M348,211.9 H351 M348,223.28 H351 M348,234.65 H351 M348,246.03 H351 M348,257.4 H351 M348,268.77 H351 M348,280.15 H351 M348,291.52 H351 M348,302.9 H351 M348,314.27 H351 M348,325.65 H351 M348,337.02 H351 M348,348.4 H351 M351,348.4 V351.4 M360.37,348.4 V351.4 M369.74,348.4 V351.4 M379.11,348.4 V351.4 M388.48,348.4 V351.4 M397.85,348.4 V351.4 M407.22,348.4 V351.4 M416.59,348.4 V351.4 M425.96,348.4 V351.4 M435.33,348.4 V351.4 M444.7,348.4 V351.4 M454.07,348.4 V351.4 M463.44,348.4 V351.4 M472.81,348.4 V351.4 M482.18,348.4 V351.4 M491.55,348.4 V351.4 M500.92,348.4 V351.4 M510.29,348.4 V351.4 M519.66,348.4 V351.4 M529.03,348.4 V351.4 M538.4,348.4 V351.4" stroke="#cacaca" stroke-width="1" fill="none"/>
<text x="343.2" y="214.65" font-family='"Liberation Sans", sans-serif' font-size="7.9" font-weight="bold" fill="#1a1a1a" text-anchor="end" stroke="#1a1a1a" stroke-width="0.18" >0.02</text>
<text x="343.2" y="237.4" font-family='"Liberation Sans", sans-serif' font-size="7.9" font-weight="bold" fill="#1a1a1a" text-anchor="end" stroke="#1a1a1a" stroke-width="0.18" >0</text>
<text x="343.2" y="260.15" font-family='"Liberation Sans", sans-serif' font-size="7.9" font-weight="bold" fill="#1a1a1a" text-anchor="end" stroke="#1a1a1a" stroke-width="0.18" >-0.02</text>
<text x="343.2" y="282.9" font-family='"Liberation Sans", sans-serif' font-size="7.9" font-weight="bold" fill="#1a1a1a" text-anchor="end" stroke="#1a1a1a" stroke-width="0.18" >-0.04</text>
<text x="343.2" y="305.65" font-family='"Liberation Sans", sans-serif' font-size="7.9" font-weight="bold" fill="#1a1a1a" text-anchor="end" stroke="#1a1a1a" stroke-width="0.18" >-0.06</text>
<text x="343.2" y="328.4" font-family='"Liberation Sans", sans-serif' font-size="7.9" font-weight="bold" fill="#1a1a1a" text-anchor="end" stroke="#1a1a1a" stroke-width="0.18" >-0.08</text>
<text x="343.2" y="351.15" font-family='"Liberation Sans", sans-serif' font-size="7.9" font-weight="bold" fill="#1a1a1a" text-anchor="end" stroke="#1a1a1a" stroke-width="0.18" >-0.1</text>
<text x="351" y="362.4" font-family='"Liberation Sans", sans-serif' font-size="7.9" font-weight="bold" fill="#1a1a1a" text-anchor="middle" stroke="#1a1a1a" stroke-width="0.18" >-200</text>
<text x="369.74" y="362.4" font-family='"Liberation Sans", sans-serif' font-size="7.9" font-weight="bold" fill="#1a1a1a" text-anchor="middle" stroke="#1a1a1a" stroke-width="0.18" >0</text>
<text x="388.48" y="362.4" font-family='"Liberation Sans", sans-serif' font-size="7.9" font-weight="bold" fill="#1a1a1a" text-anchor="middle" stroke="#1a1a1a" stroke-width="0.18" >200</text>
<text x="407.22" y="362.4" font-family='"Liberation Sans", sans-serif' font-size="7.9" font-weight="bold" fill="#1a1a1a" text-anchor="middle" stroke="#1a1a1a" stroke-width="0.18" >400</text>
<text x="425.96" y="362.4" font-family='"Liberation Sans", sans-serif' font-size="7.9" font-weight="bold" fill="#1a1a1a" text-anchor="middle" stroke="#1a1a1a" stroke-width="0.18" >600</text>
<text x="444.7" y="362.4" font-family='"Liberation Sans", sans-serif' font-size="7.9" font-weight="bold" fill="#1a1a1a" text-anchor="middle" stroke="#1a1a1a" stroke-width="0.18" >800</text>
<text x="463.44" y="362.4" font-family='"Liberation Sans", sans-serif' font-size="7.9" font-weight="bold" fill="#1a1a1a" text-anchor="middle" stroke="#1a1a1a" stroke-width="0.18" >1000</text>
<text x="482.18" y="362.4" font-family='"Liberation Sans", sans-serif' font-size="7.9" font-weight="bold" fill="#1a1a1a" text-anchor="middle" stroke="#1a1a1a" stroke-width="0.18" >1200</text>
<text x="500.92" y="362.4" font-family='"Liberation Sans", sans-serif' font-size="7.9" font-weight="bold" fill="#1a1a1a" text-anchor="middle" stroke="#1a1a1a" stroke-width="0.18" >1400</text>
<text x="519.66" y="362.4" font-family='"Liberation Sans", sans-serif' font-size="7.9" font-weight="bold" fill="#1a1a1a" text-anchor="middle" stroke="#1a1a1a" stroke-width="0.18" >1600</text>
<text x="538.4" y="362.4" font-family='"Liberation Sans", sans-serif' font-size="7.9" font-weight="bold" fill="#1a1a1a" text-anchor="middle" stroke="#1a1a1a" stroke-width="0.18" >1800</text>
<text x="444.5" y="373.2" font-family='"Liberation Sans", sans-serif' font-size="7.5" font-weight="bold" fill="#1a1a1a" text-anchor="middle" stroke="#1a1a1a" stroke-width="0.18" textLength="33.5" lengthAdjust="spacingAndGlyphs" >Time (ns)</text>
<text transform="translate(322.2,279.9) rotate(-90)" font-family='"Liberation Sans", sans-serif' font-size="7.55" font-weight="bold" fill="#1a1a1a" text-anchor="middle" stroke="#1a1a1a" stroke-width="0.18" textLength="75.6" lengthAdjust="spacingAndGlyphs" >&#916;OD @ 450 nm (a.u.)</text>
<text x="304.3" y="210.9" font-family='"Liberation Serif", serif' font-size="16.2" font-weight="bold" fill="#000" text-anchor="start" >D</text>
<path d="M353.06,235.52 L353.49,232.9 L353.92,235.42 L354.35,235.73 L354.79,237.82 L355.22,235.38 L355.65,230.86 L356.08,233.2 L356.51,231.11 L356.94,233.8 L357.37,233.3 L357.8,234.02 L358.23,240.34 L358.66,231.73 L359.1,232.92 L359.53,232.95 L359.96,240.42 L360.39,240.6 L360.82,237.69 L361.25,236.25 L361.68,233.61 L362.11,234.81 L362.54,232.87 L362.97,236.84 L363.41,233.6 L363.84,233.3 L364.27,236.91 L364.7,228.79 L365.13,232.75 L365.56,230.57 L365.99,236.77 L366.42,237.17 L366.85,235.82 L367.29,235.01 L367.72,232.49 L368.15,233.8 L368.58,236.18 L369.01,237.92 L369.44,236.43 L369.87,336.84 L370.3,335.87 L370.73,334.94 L371.16,320.06 L371.6,325.73 L372.03,319.63 L372.46,314.52 L372.89,325.06 L373.32,318.53 L373.75,317.07 L374.18,318.8 L374.61,313.64 L375.04,314.91 L375.47,319.07 L375.91,310.65 L376.34,310.61 L376.77,309.1 L377.2,306.86 L377.63,309.99 L378.06,310.27 L378.49,314.56 L378.92,307.47 L379.35,311.09 L379.78,309.96 L380.22,312.13 L380.65,310.49 L381.08,308.35 L381.51,301.46 L381.94,312.08 L382.37,309.38 L382.8,302.82 L383.23,297.91 L383.66,300.02 L384.09,307.61 L384.53,308.83 L384.96,298.1 L385.39,300.9 L385.82,301.25 L386.25,293.12 L386.68,291.72 L387.11,293.96 L387.54,292.68 L387.97,291.06 L388.41,286.13 L388.84,288.49 L389.27,287.89 L389.7,286.86 L390.13,293.17 L390.56,282.56 L390.99,282.81 L391.42,283.42 L391.85,291.15 L392.28,285.79 L392.72,279.99 L393.15,288.3 L393.58,282.03 L394.01,277.23 L394.44,284.52 L394.87,273.9 L395.3,276.89 L395.73,278.67 L396.16,276.46 L396.59,274.78 L397.03,276.03 L397.46,271.99 L397.89,277.62 L398.32,276.26 L398.75,270.78 L399.18,273.75 L399.61,276.36 L400.04,269.65 L400.47,267.4 L400.9,273.46 L401.34,276.2 L401.77,271.5 L402.2,271.1 L402.63,271.18 L403.06,264.94 L403.49,272.81 L403.92,264.59 L404.35,272.8 L404.78,270.75 L405.21,265.51 L405.65,263.42 L406.08,263.94 L406.51,265.31 L406.94,265.62 L407.37,265.2 L407.8,263.39 L408.23,265.58 L408.66,263.67 L409.09,262.3 L409.53,263.9 L409.96,260.94 L410.39,261.27 L410.82,255.99 L411.25,261.41 L411.68,263.64 L412.11,263.12 L412.54,261.57 L412.97,258.05 L413.4,262.03 L413.84,259.25 L414.27,253.98 L414.7,268.7 L415.13,263.48 L415.56,258.51 L415.99,257.68 L416.42,257.93 L416.85,259.93 L417.28,255.94 L417.71,256.93 L418.15,259.39 L418.58,249.04 L419.01,255.85 L419.44,258.68 L419.87,256.86 L420.3,257.03 L420.73,256.22 L421.16,265.05 L421.59,257.15 L422.02,251.8 L422.46,258.98 L422.89,254.97 L423.32,251.25 L423.75,251.34 L424.18,248.94 L424.61,259.6 L425.04,254.77 L425.47,254.5 L425.9,250.99 L426.33,249.17 L426.77,261.83 L427.2,248.74 L427.63,257.18 L428.06,249.7 L428.49,256.91 L428.92,251.01 L429.35,247.33 L429.78,251.72 L430.21,250.36 L430.65,248.09 L431.08,250.14 L431.51,250.73 L431.94,245 L432.37,246.47 L432.8,250.87 L433.23,240.31 L433.66,253.41 L434.09,246.2 L434.52,250.05 L434.96,248.52 L435.39,246.39 L435.82,247.87 L436.25,246.28 L436.68,253.5 L437.11,253.28 L437.54,245.87 L437.97,251.09 L438.4,251.15 L438.83,252.51 L439.27,243.02 L439.7,244.64 L440.13,242.01 L440.56,250.08 L440.99,246.73 L441.42,250.48 L441.85,243.83 L442.28,240.88 L442.71,249.2 L443.14,240.7 L443.58,242.52 L444.01,246.36 L444.44,252.35 L444.87,240.69 L445.3,245.69 L445.73,247.29 L446.16,243.74 L446.59,243.58 L447.02,239.74 L447.45,248.21 L447.89,240.73 L448.32,239.41 L448.75,239.41 L449.18,244.87 L449.61,246.68 L450.04,240.55 L450.47,243.52 L450.9,243.38 L451.33,238.83 L451.76,244.48 L452.2,251.31 L452.63,244.69 L453.06,249.59 L453.49,240.36 L453.92,241.97 L454.35,245.04 L454.78,242.89 L455.21,239.92 L455.64,242.39 L456.08,238.04 L456.51,242.68 L456.94,238.82 L457.37,237.19 L457.8,236.69 L458.23,244.39 L458.66,239.01 L459.09,248.32 L459.52,245.53 L459.95,248.44 L460.39,238.01 L460.82,245.78 L461.25,241.54 L461.68,242.07 L462.11,241.43 L462.54,243.27 L462.97,240.37 L463.4,234.98 L463.83,240.86 L464.26,239.12 L464.7,237.45 L465.13,241.46 L465.56,245.01 L465.99,242.54 L466.42,236.9 L466.85,246.11 L467.28,242.47 L467.71,236.92 L468.14,237.58 L468.57,240.19 L469.01,237.41 L469.44,239.52 L469.87,244.04 L470.3,245.29 L470.73,242.07 L471.16,236.68 L471.59,241.7 L472.02,242.79 L472.45,242.28 L472.88,244.81 L473.32,239.93 L473.75,243.49 L474.18,238.17 L474.61,247.41 L475.04,238.18 L475.47,241.43 L475.9,245.81 L476.33,236.66 L476.76,240.02 L477.2,246.63 L477.63,241.96 L478.06,237.92 L478.49,240.43 L478.92,236.15 L479.35,236.21 L479.78,236.44 L480.21,237.55 L480.64,234.07 L481.07,236.32 L481.51,236.98 L481.94,245.59 L482.37,235.37 L482.8,233.92 L483.23,239.35 L483.66,239.9 L484.09,231.63 L484.52,244.21 L484.95,236.57 L485.38,229.85 L485.82,241.25 L486.25,235.69 L486.68,231.56 L487.11,238.37 L487.54,236 L487.97,234.8 L488.4,240.93 L488.83,238.11 L489.26,236.77 L489.69,234.91 L490.13,237.81 L490.56,238.32 L490.99,241.09 L491.42,238.81 L491.85,234.5 L492.28,237.17 L492.71,240.39 L493.14,240.32 L493.57,228.31 L494,233.49 L494.44,235.17 L494.87,246.16 L495.3,235.16 L495.73,235.61 L496.16,231.47 L496.59,235.73 L497.02,237.39 L497.45,235.34 L497.88,243.73 L498.32,233.54 L498.75,235.93 L499.18,239.4 L499.61,232.46 L500.04,230.78 L500.47,241.71 L500.9,239.17 L501.33,235.88 L501.76,236.22 L502.19,238.18 L502.63,240.12 L503.06,229.53 L503.49,233.2 L503.92,240.79 L504.35,241.28 L504.78,230.85 L505.21,233.27 L505.64,230.4 L506.07,233.83 L506.5,239.55 L506.94,235.66 L507.37,243.89 L507.8,239.05 L508.23,236.68 L508.66,234.67 L509.09,238.92 L509.52,236.84 L509.95,234.83 L510.38,235.09 L510.81,234.17 L511.25,235.62 L511.68,237.42 L512.11,233.6 L512.54,236.1 L512.97,239.07 L513.4,238.37 L513.83,236.21 L514.26,236.57 L514.69,235.64 L515.12,236.16 L515.56,235.54 L515.99,236.58 L516.42,240.4 L516.85,234.65 L517.28,232.47 L517.71,234.57 L518.14,236.68 L518.57,234.49 L519,239.3 L519.44,242.46 L519.87,235.77 L520.3,239.13 L520.73,233.41 L521.16,239.62 L521.59,244.88 L522.02,239.44 L522.45,230.49 L522.88,237.16 L523.31,240.52 L523.75,238.44 L524.18,234.04 L524.61,234.11 L525.04,235.19 L525.47,230.71 L525.9,233.35 L526.33,235.82 L526.76,233.7 L527.19,230.08 L527.62,232.4 L528.06,232.2 L528.49,239.38 L528.92,236.18 L529.35,233.17 L529.78,236.66 L530.21,231.99 L530.64,233.59 L531.07,232.51 L531.5,236.33 L531.93,226.9 L532.37,231.35 L532.8,236.3 L533.23,235.25 L533.66,226.69 L534.09,236.71 L534.52,232.54 L534.95,232.17 L535.38,235.48 L535.81,239.48 L536.24,234.84 L536.68,234.25 L537.11,231.61 L537.54,232.78 L537.97,235.36 L538.4,232.52" stroke="#2c76cc" stroke-width="0.95" fill="none" stroke-linejoin="round"/>
<path d="M353.34,234.65 L369.74,234.65 L369.74,324.62 L369.74,324.62 L370.68,322.55 L371.61,320.6 L372.55,318.8 L373.49,317.15 L374.43,315.63 L375.36,314.24 L376.3,312.95 L377.24,311.72 L378.17,310.53 L379.11,309.32 L380.05,308.05 L380.98,306.68 L381.92,305.18 L382.86,303.53 L383.8,301.73 L384.73,299.8 L385.67,297.76 L386.61,295.65 L387.54,293.52 L388.48,291.4 L389.42,289.34 L390.35,287.36 L391.29,285.48 L392.23,283.73 L393.17,282.09 L394.1,280.57 L395.04,279.15 L395.98,277.83 L396.91,276.58 L397.85,275.41 L398.79,274.3 L399.72,273.23 L400.66,272.2 L401.6,271.21 L402.54,270.25 L403.47,269.33 L404.41,268.42 L405.35,267.54 L406.28,266.69 L407.22,265.86 L408.16,265.04 L409.09,264.26 L410.03,263.49 L410.97,262.74 L411.9,262.01 L412.84,261.3 L413.78,260.6 L414.72,259.93 L415.65,259.27 L416.59,258.63 L417.53,258.01 L418.46,257.4 L419.4,256.81 L420.34,256.24 L421.27,255.68 L422.21,255.13 L423.15,254.6 L424.09,254.08 L425.02,253.58 L425.96,253.09 L426.9,252.61 L427.83,252.14 L428.77,251.69 L429.71,251.24 L430.64,250.81 L431.58,250.39 L432.52,249.98 L433.46,249.59 L434.39,249.2 L435.33,248.82 L436.27,248.45 L437.2,248.09 L438.14,247.74 L439.08,247.4 L440.01,247.07 L440.95,246.75 L441.89,246.44 L442.83,246.13 L443.76,245.83 L444.7,245.54 L445.64,245.26 L446.57,244.98 L447.51,244.71 L448.45,244.45 L449.38,244.2 L450.32,243.95 L451.26,243.71 L452.2,243.47 L453.13,243.24 L454.07,243.02 L455.01,242.8 L455.94,242.59 L456.88,242.39 L457.82,242.18 L458.75,241.99 L459.69,241.8 L460.63,241.61 L461.57,241.43 L462.5,241.26 L463.44,241.08 L464.38,240.92 L465.31,240.75 L466.25,240.6 L467.19,240.44 L468.12,240.29 L469.06,240.14 L470,240 L470.94,239.86 L471.87,239.73 L472.81,239.6 L473.75,239.47 L474.68,239.34 L475.62,239.22 L476.56,239.1 L477.5,238.99 L478.43,238.87 L479.37,238.76 L480.31,238.66 L481.24,238.55 L482.18,238.45 L483.12,238.35 L484.05,238.26 L484.99,238.16 L485.93,238.07 L486.87,237.98 L487.8,237.9 L488.74,237.81 L489.68,237.73 L490.61,237.65 L491.55,237.57 L492.49,237.5 L493.42,237.42 L494.36,237.35 L495.3,237.28 L496.24,237.21 L497.17,237.14 L498.11,237.08 L499.05,237.02 L499.98,236.96 L500.92,236.9 L501.86,236.84 L502.79,236.78 L503.73,236.73 L504.67,236.67 L505.61,236.62 L506.54,236.57 L507.48,236.52 L508.42,236.47 L509.35,236.42 L510.29,236.38 L511.23,236.33 L512.16,236.29 L513.1,236.25 L514.04,236.2 L514.98,236.16 L515.91,236.12 L516.85,236.09 L517.79,236.05 L518.72,236.01 L519.66,235.98 L520.6,235.94 L521.53,235.91 L522.47,235.88 L523.41,235.84 L524.35,235.81 L525.28,235.78 L526.22,235.75 L527.16,235.72 L528.09,235.7 L529.03,235.67 L529.97,235.64 L530.9,235.62 L531.84,235.59 L532.78,235.57 L533.72,235.54 L534.65,235.52 L535.59,235.5 L536.53,235.48 L537.46,235.45 L538.4,235.43" stroke="#ff0d0d" stroke-width="1.75" fill="none" stroke-linejoin="round"/>
</svg></body></html>
